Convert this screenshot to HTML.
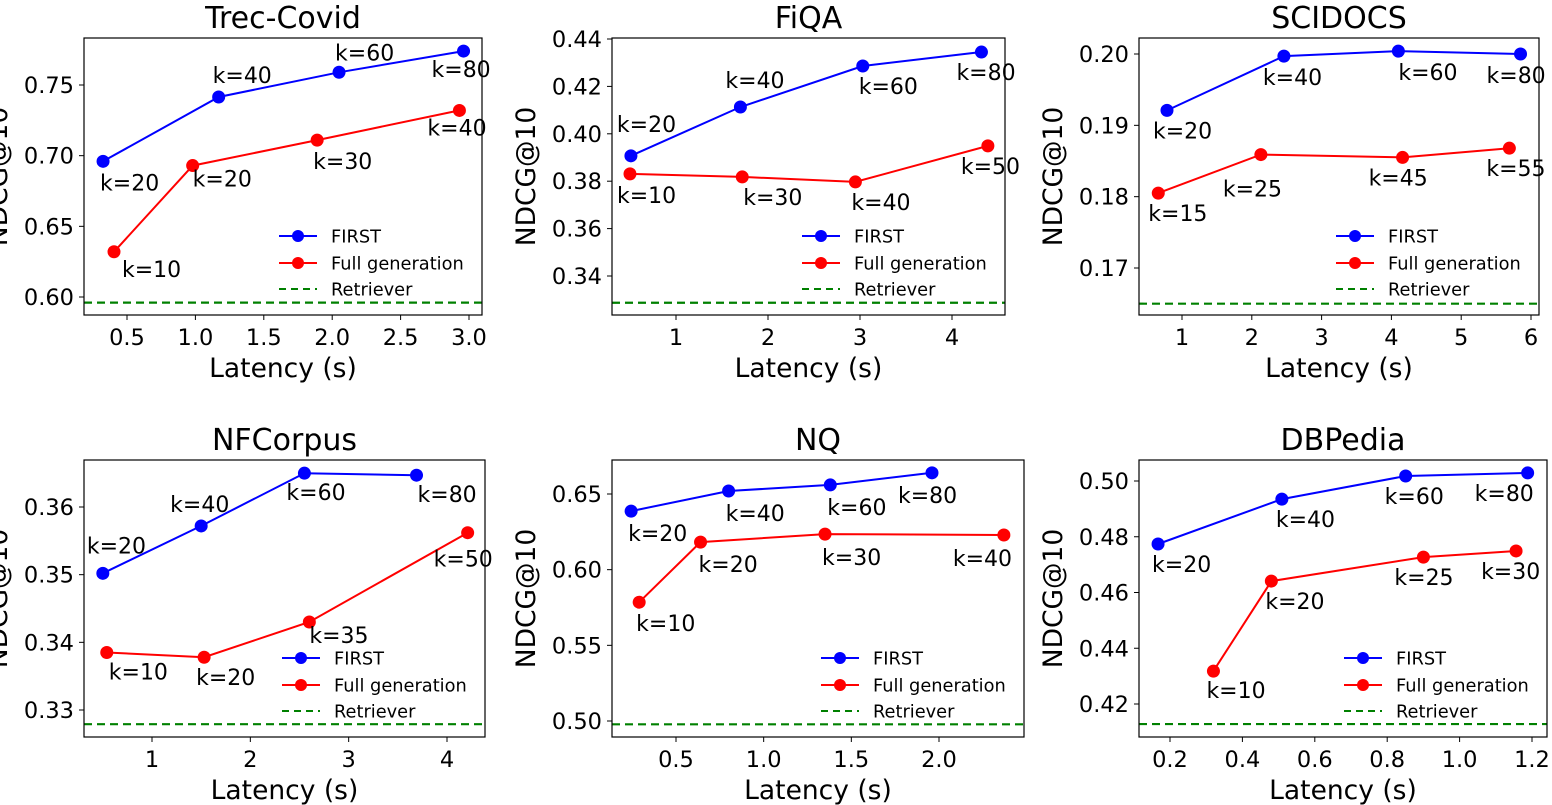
<!DOCTYPE html>
<html><head><meta charset="utf-8">
<style>
html,body{margin:0;padding:0;background:#fff;}
svg{display:block;font-family:"DejaVu Sans","Liberation Sans",sans-serif;}
</style></head>
<body>
<svg id="fig" width="1552" height="805" viewBox="0 0 1552 805" xmlns="http://www.w3.org/2000/svg"></svg>
<script>
// ---------- Data ----------
const trecFirstLatency = [0.325, 1.17, 2.05, 2.96];
const trecFirstNdcg    = [0.696, 0.7415, 0.759, 0.774];
const trecFirstK       = ["k=20","k=40","k=60","k=80"];
const trecFullLatency  = [0.405, 0.98, 1.89, 2.93];
const trecFullNdcg     = [0.632, 0.693, 0.711, 0.732];
const trecFullK        = ["k=10","k=20","k=30","k=40"];
const trecRetriever    = 0.596;
const trecXTicks = ["0.5","1.0","1.5","2.0","2.5","3.0"];
const trecYTicks = ["0.60","0.65","0.70","0.75"];

const fiqaFirstLatency = [0.51, 1.70, 3.03, 4.32];
const fiqaFirstNdcg    = [0.3907, 0.4113, 0.4286, 0.4345];
const fiqaFirstK       = ["k=20","k=40","k=60","k=80"];
const fiqaFullLatency  = [0.50, 1.72, 2.95, 4.39];
const fiqaFullNdcg     = [0.3831, 0.3818, 0.3797, 0.3949];
const fiqaFullK        = ["k=10","k=30","k=40","k=50"];
const fiqaRetriever    = 0.3287;
const fiqaXTicks = ["1","2","3","4"];
const fiqaYTicks = ["0.34","0.36","0.38","0.40","0.42","0.44"];

const scidocsFirstLatency = [0.785, 2.46, 4.10, 5.85];
const scidocsFirstNdcg    = [0.1921, 0.1997, 0.2004, 0.2000];
const scidocsFirstK       = ["k=20","k=40","k=60","k=80"];
const scidocsFullLatency  = [0.66, 2.13, 4.16, 5.69];
const scidocsFullNdcg     = [0.1805, 0.1859, 0.1855, 0.1868];
const scidocsFullK        = ["k=15","k=25","k=45","k=55"];
const scidocsRetriever    = 0.165;
const scidocsXTicks = ["1","2","3","4","5","6"];
const scidocsYTicks = ["0.17","0.18","0.19","0.20"];

const nfFirstLatency = [0.50, 1.50, 2.55, 3.69];
const nfFirstNdcg    = [0.3502, 0.3572, 0.3650, 0.3647];
const nfFirstK       = ["k=20","k=40","k=60","k=80"];
const nfFullLatency  = [0.54, 1.53, 2.60, 4.21];
const nfFullNdcg     = [0.3385, 0.3378, 0.3430, 0.3562];
const nfFullK        = ["k=10","k=20","k=35","k=50"];
const nfRetriever    = 0.3279;
const nfXTicks = ["1","2","3","4"];
const nfYTicks = ["0.33","0.34","0.35","0.36"];

const nqFirstLatency = [0.244, 0.80, 1.38, 1.96];
const nqFirstNdcg    = [0.6387, 0.652, 0.656, 0.664];
const nqFirstK       = ["k=20","k=40","k=60","k=80"];
const nqFullLatency  = [0.29, 0.64, 1.35, 2.37];
const nqFullNdcg     = [0.5785, 0.6182, 0.6235, 0.6229];
const nqFullK        = ["k=10","k=20","k=30","k=40"];
const nqRetriever    = 0.4978;
const nqXTicks = ["0.5","1.0","1.5","2.0"];
const nqYTicks = ["0.50","0.55","0.60","0.65"];

const dbFirstLatency = [0.167, 0.509, 0.851, 1.188];
const dbFirstNdcg    = [0.4774, 0.4935, 0.5018, 0.5029];
const dbFirstK       = ["k=20","k=40","k=60","k=80"];
const dbFullLatency  = [0.32, 0.48, 0.90, 1.156];
const dbFullNdcg     = [0.4318, 0.4641, 0.4727, 0.4749];
const dbFullK        = ["k=10","k=20","k=25","k=30"];
const dbRetriever    = 0.4128;
const dbXTicks = ["0.2","0.4","0.6","0.8","1.0","1.2"];
const dbYTicks = ["0.42","0.44","0.46","0.48","0.50"];

// ---------- Layout (geometry / styling only) ----------
const panels = [
 {name:"trec-covid", title:"Trec-Covid", box:[84,38,482,315], xc:[0.5,127,3.0,469], yc:[0.75,85,0.60,297],
  fx:trecFirstLatency, fy:trecFirstNdcg, fk:trecFirstK, gx:trecFullLatency, gy:trecFullNdcg, gk:trecFullK, r:trecRetriever, xt:trecXTicks, yt:trecYTicks,
  fo:[[-3,21],[-6,-22],[-4,-20],[-32,18]], go:[[8,17],[0,13],[-4,21],[-32,17]]},
 {name:"fiqa", title:"FiQA", box:[612,38,1005,315], xc:[1,676,4,952], yc:[0.44,39,0.34,276],
  fx:fiqaFirstLatency, fy:fiqaFirstNdcg, fk:fiqaFirstK, gx:fiqaFullLatency, gy:fiqaFullNdcg, gk:fiqaFullK, r:fiqaRetriever, xt:fiqaXTicks, yt:fiqaYTicks,
  fo:[[-14,-32],[-15,-27],[-4,20],[-25,20]], go:[[-13,21],[1,20],[-4,20],[-27,20]]},
 {name:"scidocs", title:"SCIDOCS", box:[1139,38,1539,315], xc:[1,1182,6,1531], yc:[0.20,54,0.17,268],
  fx:scidocsFirstLatency, fy:scidocsFirstNdcg, fk:scidocsFirstK, gx:scidocsFullLatency, gy:scidocsFullNdcg, gk:scidocsFullK, r:scidocsRetriever, xt:scidocsXTicks, yt:scidocsYTicks,
  fo:[[-14,20],[-21,21],[0,21],[-34,21]], go:[[-10,20],[-38,34],[-34,20],[-23,20]]},
 {name:"nfcorpus", title:"NFCorpus", box:[84,460,485,737], xc:[1,152,4,447], yc:[0.36,507,0.33,710],
  fx:nfFirstLatency, fy:nfFirstNdcg, fk:nfFirstK, gx:nfFullLatency, gy:nfFullNdcg, gk:nfFullK, r:nfRetriever, xt:nfXTicks, yt:nfYTicks,
  fo:[[-16,-28],[-31,-22],[-18,19],[1,19]], go:[[2,19],[-8,20],[0,13],[-34,26]]},
 {name:"nq", title:"NQ", box:[612,460,1024,737], xc:[0.5,676,2.0,939], yc:[0.65,494,0.50,721],
  fx:nqFirstLatency, fy:nqFirstNdcg, fk:nqFirstK, gx:nqFullLatency, gy:nqFullNdcg, gk:nqFullK, r:nqRetriever, xt:nqXTicks, yt:nqYTicks,
  fo:[[-3,22],[-3,22],[-3,22],[-34,22]], go:[[-3,21],[-2,22],[-3,23],[-51,23]]},
 {name:"dbpedia", title:"DBPedia", box:[1139,460,1547,737], xc:[0.2,1170,1.2,1532], yc:[0.50,481,0.42,704],
  fx:dbFirstLatency, fy:dbFirstNdcg, fk:dbFirstK, gx:dbFullLatency, gy:dbFullNdcg, gk:dbFullK, r:dbRetriever, xt:dbXTicks, yt:dbYTicks,
  fo:[[-6,20],[-6,20],[-21,20],[-53,20]], go:[[-7,19],[-6,20],[-29,20],[-35,20]]}
];

const NS = "http://www.w3.org/2000/svg";
const fig = document.getElementById("fig");
function mk(tag, attrs, parent){
  const e = document.createElementNS(NS, tag);
  for (const k in attrs) e.setAttribute(k, attrs[k]);
  parent.appendChild(e);
  return e;
}

panels.forEach(p => {
  const [L,T,R,B] = p.box;
  const xs = v => p.xc[1] + (v - p.xc[0]) * (p.xc[3]-p.xc[1])/(p.xc[2]-p.xc[0]);
  const ys = v => p.yc[1] + (v - p.yc[0]) * (p.yc[3]-p.yc[1])/(p.yc[2]-p.yc[0]);
  const g = mk("g", {}, fig);
  
  

  // clip
  const cp = mk("clipPath", {id:"clip-"+p.name}, g);
  mk("rect", {x:L, y:T, width:R-L, height:B-T}, cp);

  // title
  const t = mk("text", {x:(L+R)/2, y:T-10, "font-size":30, "text-anchor":"middle", fill:"#000"}, g);
  t.textContent = p.title;
  
  

  // x label
  const xl = mk("text", {x:(L+R)/2, y:B+62, "font-size":26.5, "text-anchor":"middle"}, g);
  xl.textContent = "Latency (s)";
  
  

  // y label
  const yl = mk("text", {x:0, y:0, "font-size":26.5, "text-anchor":"middle", transform:`translate(${L-77},${(T+B)/2}) rotate(-90)`}, g);
  yl.textContent = "NDCG@10";
  
  

  // x ticks
  p.xt.forEach(lbl => {
    const x = xs(parseFloat(lbl));
    mk("line", {x1:x, y1:B, x2:x, y2:B+5, stroke:"#000", "stroke-width":1}, g);
    const tt = mk("text", {x:x, y:B+30, "font-size":22.5, "text-anchor":"middle"}, g);
    tt.textContent = lbl;
    
    
  });
  // y ticks
  p.yt.forEach(lbl => {
    const y = ys(parseFloat(lbl));
    mk("line", {x1:L-5, y1:y, x2:L, y2:y, stroke:"#000", "stroke-width":1}, g);
    const tt = mk("text", {x:L-10, y:y+8, "font-size":22.5, "text-anchor":"end"}, g);
    tt.textContent = lbl;
    
    
  });

  const plot = mk("g", {"clip-path":`url(#clip-${p.name})`}, g);
  // retriever line
  const rl = mk("line", {x1:L, x2:R, y1:ys(p.r), y2:ys(p.r), stroke:"#008000", "stroke-width":2.2, "stroke-dasharray":"8,5"}, plot);
  
  

  function series(xv, yv, kv, offs, color, nm){
    const pts = xv.map((v,i) => xs(v).toFixed(1)+","+ys(yv[i]).toFixed(1)).join(" ");
    const pl = mk("polyline", {points:pts, fill:"none", stroke:color, "stroke-width":2}, g);
    
    
    xv.forEach((v,i) => {
      const c = mk("circle", {cx:xs(v), cy:ys(yv[i]), r:6.5, fill:color}, g);
      
      
      const lab = mk("text", {x:xs(v)+offs[i][0], y:ys(yv[i])+offs[i][1]+8, "font-size":22}, g);
      lab.textContent = kv[i];
      
      
    });
  }
  series(p.fx, p.fy, p.fk, p.fo, "#0000ff", "first");
  series(p.gx, p.gy, p.gk, p.go, "#ff0000", "full-generation");

  // frame
  const fr = mk("rect", {x:L, y:T, width:R-L, height:B-T, fill:"none", stroke:"#000", "stroke-width":1.2}, g);
  
  

  // legend
  const lg = mk("g", {}, g);
  
  
  const items = [["FIRST","#0000ff",false],["Full generation","#ff0000",false],["Retriever","#008000",true]];
  const rows = [B-79, B-52, B-26];
  items.forEach((it,i) => {
    const y = rows[i];
    const ln = mk("line", {x1:R-203, x2:R-165, y1:y, y2:y, stroke:it[1], "stroke-width":2}, lg);
    if (it[2]) ln.setAttribute("stroke-dasharray","7,5");
    if (!it[2]) mk("circle", {cx:R-184, cy:y, r:6, fill:it[1]}, lg);
    const tx = mk("text", {x:R-151, y:y+6.5, "font-size":17.8}, lg);
    tx.textContent = it[0];
    
    
  });
});
</script>
</body></html>
